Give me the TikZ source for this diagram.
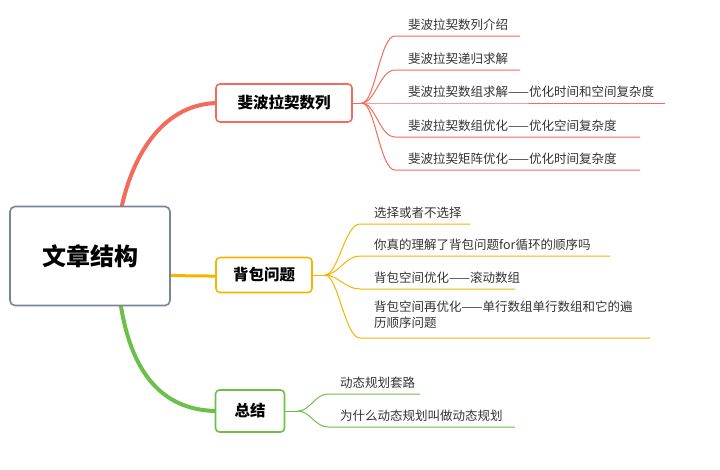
\documentclass[tikz,border=0pt]{standalone}
\usepackage{fontspec}
\setmainfont{Noto Sans CJK SC}
\begin{document}
\begin{tikzpicture}[x=1pt,y=-1pt]
\definecolor{cr}{HTML}{F26B5B}\definecolor{co}{HTML}{F5B400}\definecolor{cg}{HTML}{6CC04A}\definecolor{cgr}{HTML}{7A8696}
\tikzset{br/.style={draw=#1,line width=1.6pt,rounded corners=4pt,fill=white,font=\bfseries\fontsize{15.5}{18}\selectfont,inner sep=0pt},
leaf/.style={anchor=south west,font=\fontsize{12.5}{15.5}\selectfont,inner sep=0pt,text=black!80},
ln/.style={draw=#1,line width=1pt}}
\useasboundingbox (0,0) rectangle (720,469);
% root connectors
\draw[cr,line width=4pt] (120,215) .. controls (130,160) and (160,105) .. (216,103);
\draw[co,line width=3pt] (165,275) .. controls (185,276) and (200,276) .. (216,276);
\draw[cg,line width=4pt] (120,300) .. controls (130,370) and (160,410) .. (216,411);
\node[draw=cgr,line width=1.6pt,rounded corners=5pt,fill=white,minimum width=160pt,minimum height=99pt,font=\bfseries\fontsize{24}{28}\selectfont] (root) at (90,256) {文章结构};
\node[br=cr,minimum width=136pt,minimum height=38pt] (b1) at (284,103) {斐波拉契数列};
\node[br=co,minimum width=96pt,minimum height=35pt] (b2) at (264,275) {背包问题};
\node[br=cg,minimum width=69pt,minimum height=42pt] (b3) at (250,411) {总结};
% branch 1
\draw[ln=cr] (b1.east) -- (362,103);
\foreach \y/\e/\t in {36/520/斐波拉契数列介绍,70/520/斐波拉契递归求解,103/665/斐波拉契数组求解——优化时间和空间复杂度,137/640/斐波拉契数组优化——优化空间复杂度,170/640/斐波拉契矩阵优化——优化时间复杂度}{
 \draw[ln=cr] (362,103) .. controls (375,103) and (380,\y) .. (395,\y) -- (\e,\y);
 \node[leaf] at (408,\y-5) {\t};}
% branch 2
\draw[ln=co] (b2.east) -- (325,275);
\foreach \y/\e/\t in {224/470/选择或者不选择,256/610/你真的理解了背包问题for循环的顺序吗,289/515/背包空间优化——滚动数组}{
 \draw[ln=co] (325,275) .. controls (338,275) and (345,\y) .. (360,\y) -- (\e,\y);
 \node[leaf] at (374,\y-5) {\t};}
\draw[ln=co] (325,275) .. controls (338,275) and (345,338) .. (360,338) -- (650,338);
\node[leaf,align=left,anchor=north west] at (374,301) {背包空间再优化——单行数组单行数组和它的遍\\历顺序问题};
% branch 3
\draw[ln=cg] (b3.east) -- (298,411);
\foreach \y/\e/\t in {394/420/动态规划套路,427/515/为什么动态规划叫做动态规划}{
 \draw[ln=cg] (298,411) .. controls (310,411) and (315,\y) .. (328,\y) -- (\e,\y);
 \node[leaf] at (340,\y-5) {\t};}
\end{tikzpicture}
\end{document}
